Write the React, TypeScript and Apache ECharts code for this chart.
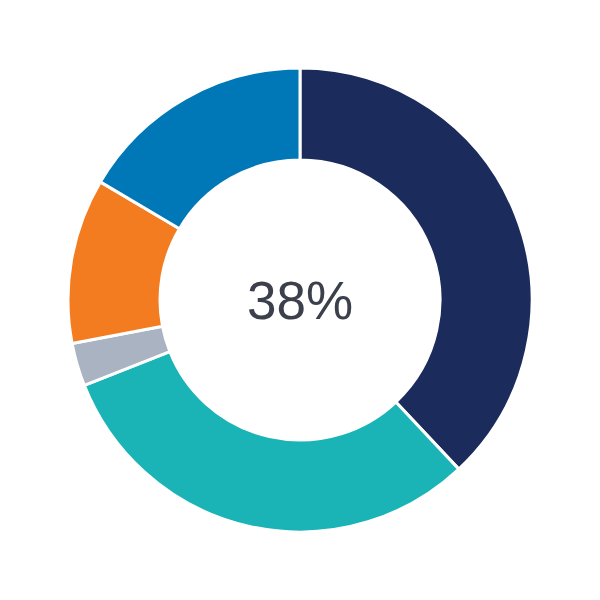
import React, { useEffect, useRef } from "react";
import * as echarts from "echarts";

const categories = ["Navy", "Teal", "Gray", "Orange", "Blue"];
const values = [38, 31, 3, 11.5, 16.5];
const colors = ["#1b2b5b", "#1ab3b6", "#a9b3c1", "#f47c20", "#0077b6"];
const centerLabel = "38%";

const App: React.FC = () => {
  const chartRef = useRef<HTMLDivElement>(null);

  useEffect(() => {
    if (!chartRef.current) return;
    const chart = echarts.init(chartRef.current, null, { renderer: "svg" });

    chart.setOption({
      animation: false,
      title: {
        text: centerLabel,
        left: "center",
        top: "middle",
        textStyle: {
          fontFamily: "Liberation Sans, Arial, sans-serif",
          fontSize: 53,
          fontWeight: "normal",
          color: "#3b404c",
        },
      },
      series: [
        {
          type: "pie",
          center: ["50%", "50%"],
          radius: [140, 232],
          startAngle: 90,
          clockwise: true,
          label: { show: false },
          labelLine: { show: false },
          itemStyle: { borderColor: "#ffffff", borderWidth: 3 },
          data: categories.map((name, i) => ({
            name,
            value: values[i],
            itemStyle: { color: colors[i] },
          })),
        },
      ],
    });

    return () => {
      chart.dispose();
    };
  }, []);

  return (
    <div
      ref={chartRef}
      style={{ position: "absolute", left: 0, top: 0, width: "600px", height: "600px" }}
    />
  );
};

export default App;
